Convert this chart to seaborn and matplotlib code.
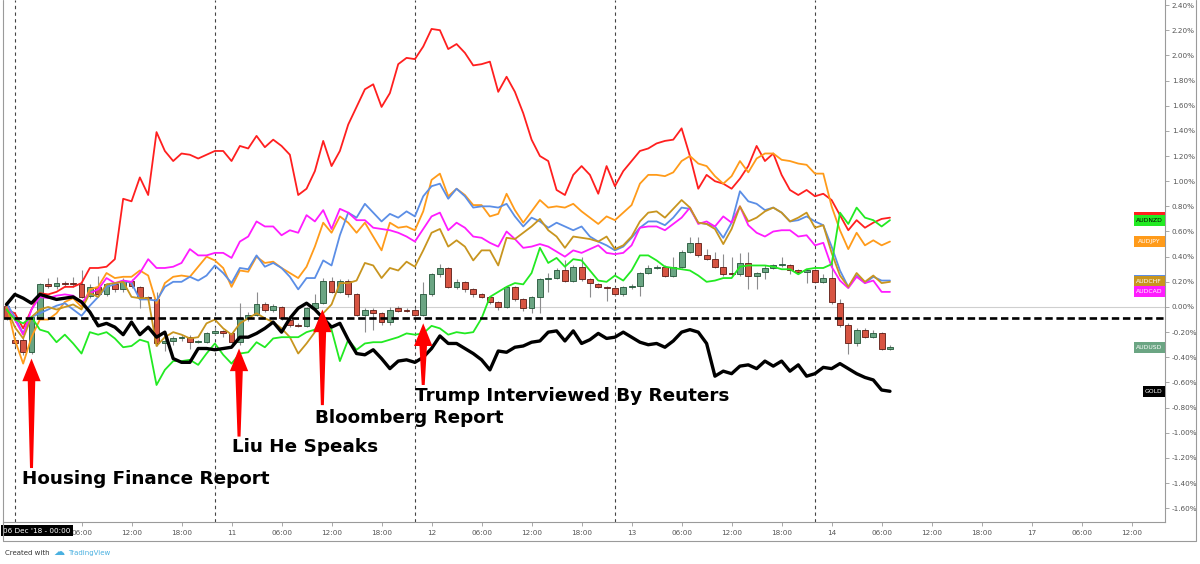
import numpy as np
import pandas as pd
import matplotlib.pyplot as plt
from matplotlib.patches import Polygon, Rectangle
from matplotlib.lines import Line2D
import seaborn as sns

# hourly bars; hour 0 = "06 Dec '18 - 00:00" on the chart's own (weekend-free) time scale
hours = list(range(-3, 104))

# % change series
audgbp = [-0.02, -0.05, -0.17, -0.02, 0.11, 0.10, 0.12, 0.16, 0.16, 0.19,
          0.31, 0.31, 0.32, 0.38, 0.86, 0.84, 1.03, 0.89, 1.39, 1.24,
          1.16, 1.22, 1.21, 1.18, 1.21, 1.24, 1.24, 1.16, 1.28, 1.26,
          1.36, 1.27, 1.33, 1.28, 1.21, 0.89, 0.94, 1.08, 1.32, 1.12,
          1.24, 1.45, 1.59, 1.73, 1.77, 1.59, 1.70, 1.93, 1.98, 1.97,
          2.07, 2.21, 2.20, 2.05, 2.09, 2.02, 1.92, 1.93, 1.95, 1.71,
          1.83, 1.71, 1.54, 1.33, 1.20, 1.16, 0.93, 0.89, 1.05, 1.12,
          1.05, 0.90, 1.12, 0.96, 1.08, 1.16, 1.24, 1.26, 1.30, 1.32,
          1.33, 1.42, 1.20, 0.94, 1.05, 1.00, 0.98, 0.94, 1.02, 1.12,
          1.28, 1.16, 1.22, 1.05, 0.93, 0.89, 0.93, 0.88, 0.90, 0.85,
          0.73, 0.61, 0.69, 0.63, 0.67, 0.70, 0.71]
audjpy = [0.03, -0.26, -0.45, -0.24, -0.10, -0.10, -0.05, 0.04, 0.07, 0.00,
          0.14, 0.16, 0.27, 0.23, 0.24, 0.24, 0.29, 0.25, 0.03, 0.19,
          0.24, 0.25, 0.24, 0.32, 0.40, 0.37, 0.31, 0.16, 0.29, 0.28,
          0.40, 0.35, 0.36, 0.31, 0.27, 0.23, 0.32, 0.48, 0.67, 0.59,
          0.72, 0.67, 0.59, 0.67, 0.56, 0.45, 0.67, 0.63, 0.64, 0.61,
          0.76, 1.01, 1.06, 0.88, 0.94, 0.89, 0.81, 0.81, 0.72, 0.74,
          0.90, 0.77, 0.67, 0.76, 0.85, 0.79, 0.80, 0.79, 0.82, 0.76,
          0.71, 0.66, 0.72, 0.69, 0.75, 0.81, 0.98, 1.05, 1.05, 1.04,
          1.07, 1.16, 1.20, 1.14, 1.12, 1.04, 0.98, 1.04, 1.16, 1.07,
          1.18, 1.22, 1.22, 1.17, 1.16, 1.14, 1.13, 1.06, 1.06, 0.80,
          0.61, 0.46, 0.59, 0.49, 0.53, 0.49, 0.52]
audeur = [0.03, -0.08, -0.21, -0.08, -0.05, -0.02, 0.01, 0.03, -0.02, -0.07,
          0.01, 0.08, 0.16, 0.18, 0.21, 0.19, 0.06, 0.06, 0.05, 0.16,
          0.20, 0.20, 0.24, 0.21, 0.25, 0.33, 0.27, 0.19, 0.31, 0.30,
          0.41, 0.32, 0.35, 0.31, 0.24, 0.14, 0.23, 0.23, 0.37, 0.33,
          0.57, 0.75, 0.71, 0.82, 0.75, 0.68, 0.74, 0.71, 0.76, 0.72,
          0.88, 0.96, 0.98, 0.86, 0.94, 0.88, 0.79, 0.80, 0.80, 0.79,
          0.82, 0.72, 0.64, 0.71, 0.68, 0.63, 0.67, 0.64, 0.61, 0.64,
          0.56, 0.52, 0.49, 0.45, 0.48, 0.55, 0.63, 0.68, 0.68, 0.65,
          0.71, 0.79, 0.78, 0.67, 0.66, 0.64, 0.55, 0.67, 0.92, 0.84,
          0.82, 0.77, 0.79, 0.75, 0.68, 0.69, 0.72, 0.68, 0.65, 0.48,
          0.29, 0.16, 0.25, 0.19, 0.24, 0.21, 0.21]
audcad = [0.00, -0.10, -0.22, -0.02, 0.08, 0.07, 0.09, 0.10, 0.09, 0.03,
          0.11, 0.14, 0.23, 0.19, 0.21, 0.20, 0.27, 0.38, 0.31, 0.31,
          0.32, 0.35, 0.46, 0.41, 0.41, 0.43, 0.43, 0.39, 0.52, 0.56,
          0.68, 0.64, 0.64, 0.57, 0.61, 0.59, 0.73, 0.68, 0.77, 0.62,
          0.78, 0.75, 0.69, 0.69, 0.63, 0.62, 0.61, 0.59, 0.56, 0.52,
          0.62, 0.72, 0.75, 0.61, 0.67, 0.63, 0.56, 0.55, 0.51, 0.48,
          0.60, 0.54, 0.47, 0.48, 0.50, 0.48, 0.44, 0.40, 0.45, 0.43,
          0.46, 0.49, 0.43, 0.42, 0.43, 0.49, 0.63, 0.64, 0.64, 0.61,
          0.66, 0.71, 0.79, 0.66, 0.68, 0.64, 0.72, 0.67, 0.80, 0.65,
          0.59, 0.56, 0.60, 0.61, 0.61, 0.56, 0.57, 0.49, 0.51, 0.32,
          0.21, 0.15, 0.24, 0.19, 0.21, 0.12, 0.12]
audchf = [0.00, -0.16, -0.25, -0.08, -0.02, 0.00, -0.02, 0.00, 0.02, -0.02,
          0.11, 0.08, 0.18, 0.19, 0.20, 0.08, 0.07, 0.07, -0.31, -0.24,
          -0.20, -0.22, -0.25, -0.24, -0.13, -0.10, -0.17, -0.22, -0.13, -0.09,
          -0.05, -0.09, -0.12, -0.17, -0.24, -0.37, -0.29, -0.20, -0.05, 0.02,
          0.19, 0.19, 0.21, 0.35, 0.33, 0.23, 0.31, 0.29, 0.36, 0.32,
          0.45, 0.59, 0.62, 0.48, 0.53, 0.48, 0.37, 0.45, 0.45, 0.33,
          0.55, 0.54, 0.59, 0.64, 0.70, 0.61, 0.56, 0.47, 0.56, 0.55,
          0.54, 0.52, 0.56, 0.46, 0.49, 0.56, 0.68, 0.75, 0.76, 0.71,
          0.78, 0.85, 0.79, 0.67, 0.66, 0.62, 0.50, 0.62, 0.80, 0.68,
          0.71, 0.76, 0.79, 0.75, 0.68, 0.71, 0.75, 0.63, 0.65, 0.43,
          0.25, 0.16, 0.27, 0.20, 0.25, 0.19, 0.20]
audnzd = [-0.02, -0.10, -0.13, -0.08, -0.18, -0.20, -0.28, -0.22, -0.29, -0.37,
          -0.20, -0.22, -0.20, -0.25, -0.32, -0.31, -0.26, -0.28, -0.62, -0.50,
          -0.43, -0.43, -0.42, -0.46, -0.37, -0.29, -0.38, -0.45, -0.37, -0.36,
          -0.28, -0.32, -0.25, -0.24, -0.24, -0.24, -0.20, -0.18, -0.10, -0.18,
          -0.43, -0.26, -0.34, -0.29, -0.28, -0.28, -0.26, -0.24, -0.21, -0.22,
          -0.21, -0.15, -0.17, -0.22, -0.20, -0.21, -0.20, -0.09, 0.08, 0.12,
          0.16, 0.19, 0.18, 0.27, 0.47, 0.35, 0.39, 0.32, 0.38, 0.37,
          0.29, 0.21, 0.20, 0.25, 0.21, 0.29, 0.41, 0.41, 0.37, 0.32,
          0.31, 0.30, 0.29, 0.25, 0.20, 0.21, 0.23, 0.23, 0.32, 0.33,
          0.33, 0.33, 0.32, 0.30, 0.30, 0.26, 0.30, 0.31, 0.31, 0.34,
          0.75, 0.66, 0.79, 0.71, 0.69, 0.64, 0.69]
gold = [0.02, 0.10, 0.07, 0.03, 0.10, 0.08, 0.06, 0.07, 0.08, 0.04,
        -0.04, -0.15, -0.13, -0.16, -0.22, -0.12, -0.22, -0.16, -0.24, -0.20,
        -0.41, -0.44, -0.44, -0.33, -0.33, -0.34, -0.33, -0.32, -0.24, -0.24,
        -0.21, -0.17, -0.12, -0.20, -0.09, -0.01, 0.03, -0.02, -0.09, -0.16,
        -0.13, -0.26, -0.37, -0.38, -0.34, -0.41, -0.49, -0.43, -0.42, -0.44,
        -0.40, -0.33, -0.23, -0.29, -0.29, -0.33, -0.37, -0.42, -0.50, -0.35,
        -0.36, -0.32, -0.31, -0.28, -0.27, -0.20, -0.19, -0.27, -0.19, -0.29,
        -0.26, -0.21, -0.25, -0.24, -0.20, -0.24, -0.28, -0.30, -0.29, -0.32,
        -0.27, -0.20, -0.18, -0.20, -0.29, -0.55, -0.51, -0.53, -0.47, -0.46,
        -0.49, -0.43, -0.47, -0.43, -0.51, -0.46, -0.55, -0.53, -0.48, -0.49,
        -0.45, -0.49, -0.53, -0.56, -0.58, -0.66, -0.67]

# AUDUSD candles (% change)
usd_open = [0.01, -0.26, -0.26, -0.36, -0.08, 0.18, 0.17, 0.19, 0.19, 0.18,
            0.09, 0.16, 0.10, 0.18, 0.14, 0.21, 0.16, 0.08, 0.06, -0.29,
            -0.27, -0.25, -0.24, -0.28, -0.28, -0.21, -0.19, -0.21, -0.28, -0.09,
            -0.06, 0.02, -0.02, 0.00, -0.10, -0.14, -0.15, -0.01, 0.03, 0.21,
            0.12, 0.21, 0.10, -0.06, -0.02, -0.05, -0.12, -0.01, -0.02, -0.02,
            -0.06, 0.10, 0.26, 0.31, 0.16, 0.20, 0.14, 0.10, 0.08, 0.04,
            0.00, 0.16, 0.06, -0.01, 0.08, 0.22, 0.23, 0.29, 0.21, 0.32,
            0.22, 0.18, 0.16, 0.15, 0.10, 0.16, 0.17, 0.27, 0.31, 0.32,
            0.25, 0.32, 0.44, 0.51, 0.41, 0.38, 0.32, 0.27, 0.26, 0.35,
            0.25, 0.28, 0.31, 0.33, 0.33, 0.29, 0.28, 0.29, 0.20, 0.23,
            0.03, -0.14, -0.29, -0.18, -0.24, -0.21, -0.33]
usd_close = [-0.09, -0.29, -0.36, -0.08, 0.18, 0.17, 0.19, 0.18, 0.18, 0.08,
             0.16, 0.10, 0.18, 0.14, 0.21, 0.17, 0.08, 0.07, -0.29, -0.27,
             -0.25, -0.24, -0.28, -0.27, -0.21, -0.19, -0.21, -0.28, -0.09, -0.06,
             0.02, -0.02, 0.01, -0.09, -0.14, -0.15, -0.01, 0.03, 0.21, 0.12,
             0.21, 0.10, -0.06, -0.02, -0.05, -0.12, -0.02, -0.03, -0.03, -0.06,
             0.10, 0.26, 0.31, 0.16, 0.20, 0.14, 0.10, 0.08, 0.04, 0.00,
             0.16, 0.06, -0.01, 0.08, 0.22, 0.23, 0.29, 0.21, 0.32, 0.22,
             0.19, 0.16, 0.15, 0.10, 0.16, 0.17, 0.27, 0.31, 0.32, 0.25,
             0.32, 0.44, 0.51, 0.41, 0.38, 0.32, 0.26, 0.26, 0.35, 0.25,
             0.27, 0.31, 0.33, 0.34, 0.29, 0.28, 0.29, 0.20, 0.23, 0.04,
             -0.14, -0.29, -0.18, -0.24, -0.21, -0.33, -0.32]
usd_high = [0.03, -0.24, -0.25, -0.07, 0.19, 0.23, 0.24, 0.21, 0.24, 0.29,
            0.18, 0.25, 0.19, 0.20, 0.23, 0.22, 0.17, 0.09, 0.12, -0.22,
            -0.23, -0.22, -0.22, -0.26, -0.20, -0.16, -0.18, -0.20, 0.03, -0.04,
            0.12, 0.04, 0.02, 0.01, -0.09, -0.13, 0.00, 0.10, 0.23, 0.24,
            0.22, 0.22, 0.11, -0.01, -0.01, -0.04, 0.00, 0.01, -0.01, -0.01,
            0.20, 0.27, 0.34, 0.32, 0.22, 0.21, 0.15, 0.11, 0.09, 0.05,
            0.17, 0.17, 0.07, 0.09, 0.23, 0.27, 0.31, 0.37, 0.33, 0.40,
            0.23, 0.19, 0.17, 0.16, 0.17, 0.18, 0.28, 0.33, 0.33, 0.33,
            0.40, 0.45, 0.56, 0.56, 0.46, 0.44, 0.42, 0.40, 0.43, 0.44,
            0.28, 0.33, 0.34, 0.40, 0.34, 0.30, 0.30, 0.30, 0.26, 0.36,
            0.06, -0.13, -0.17, -0.17, -0.18, -0.20, -0.30]
usd_low = [-0.10, -0.31, -0.38, -0.37, -0.09, 0.15, 0.14, 0.16, 0.16, 0.07,
           0.07, 0.09, 0.09, 0.12, 0.12, 0.15, -0.01, 0.05, -0.31, -0.35,
           -0.30, -0.27, -0.33, -0.29, -0.29, -0.22, -0.24, -0.30, -0.30, -0.11,
           -0.07, -0.04, -0.04, -0.10, -0.16, -0.16, -0.16, -0.02, 0.02, 0.11,
           0.11, 0.08, -0.07, -0.20, -0.18, -0.14, -0.14, -0.04, -0.04, -0.07,
           -0.07, 0.09, 0.24, 0.15, 0.14, 0.12, 0.08, 0.07, 0.02, -0.02,
           -0.01, 0.05, -0.03, -0.05, -0.05, 0.12, 0.22, 0.20, 0.20, 0.21,
           0.08, 0.15, 0.05, 0.09, 0.09, 0.14, 0.09, 0.26, 0.30, 0.24,
           0.24, 0.31, 0.43, 0.40, 0.37, 0.31, 0.25, 0.25, 0.25, 0.14,
           0.14, 0.22, 0.30, 0.32, 0.26, 0.27, 0.19, 0.19, 0.19, 0.02,
           -0.16, -0.37, -0.31, -0.25, -0.25, -0.34, -0.34]

baseline = -0.09  # thick dashed reference line
session_breaks = [-2, 22, 46, 70, 94]
tick_hours = list(range(6, 133, 6))
tick_labels = ["06:00", "12:00", "18:00", "11", "06:00", "12:00", "18:00", "12",
               "06:00", "12:00", "18:00", "13", "06:00", "12:00", "18:00", "14",
               "06:00", "12:00", "18:00", "17", "06:00", "12:00"]

colors = {"AUDGBP": "#ff1f1f", "AUDJPY": "#ff9b1a", "AUDEUR": "#5b8ee6",
          "AUDCAD": "#ff1cff", "AUDCHF": "#c8951f", "AUDNZD": "#22ea22"}
series = {"AUDGBP": audgbp, "AUDJPY": audjpy, "AUDEUR": audeur,
          "AUDCAD": audcad, "AUDCHF": audchf, "AUDNZD": audnzd}

# annotation: text, arrow x (hour), arrow tip, arrow tail, text left x, text y
events = [("Housing Finance Report", 0.0, -0.41, -1.28, -1.1, -1.37),
          ("Liu He Speaks", 24.9, -0.33, -1.03, 24.1, -1.11),
          ("Bloomberg Report", 34.9, -0.02, -0.78, 34.0, -0.88),
          ("Trump Interviewed By Reuters", 47.0, -0.13, -0.62, 46.0, -0.71)]

sns.set_theme(style="white")
plt.rcParams['font.family'] = ['DejaVu Sans']

fig = plt.figure(figsize=(12, 5.64), dpi=100)
ax = fig.add_axes([3 / 1200, 1 - 522 / 564, 1162 / 1200, 522 / 564])
ax.set_xlim(-3.42, 136.0)
ax.set_ylim(-1.709, 2.44)

# reference lines
ax.axhline(0, color="#cfcfcf", lw=0.8, zorder=1)
for h in session_breaks:
    ax.axvline(h, color="#444444", lw=0.8, ls=(0, (3, 3)), zorder=1)

# candles
o = np.array(usd_open)
c = np.array(usd_close)
up = c >= o
ax.vlines(hours, usd_low, usd_high, color="#8c8c8e", lw=0.8, zorder=2)
ax.bar(hours, c - o, bottom=o, width=0.7,
       color=np.where(up, "#6ba583", "#d75442"),
       edgecolor=np.where(up, "#225437", "#5b1a13"), linewidth=0.6, zorder=2)

# compare lines
df = pd.concat([pd.DataFrame({"hour": hours, "pct": v, "pair": k}) for k, v in series.items()])
sns.lineplot(data=df, x="hour", y="pct", hue="pair", palette=colors, linewidth=1.3,
             legend=False, ax=ax, zorder=3)
sns.lineplot(x=hours, y=gold, color="black", linewidth=2.4, ax=ax, zorder=4)

ax.axhline(baseline, color="black", lw=1.9, ls=(0, (2.8, 1.4)), zorder=5)

# events
for text, hx, tip, tail, tx, ty in events:
    hw, hl, nw, tw = 1.1, 0.18, 0.45, 0.18
    neck = tip - hl
    pts = [(hx, tip), (hx + hw, neck), (hx + nw, neck), (hx + tw, tail),
           (hx - tw, tail), (hx - nw, neck), (hx - hw, neck)]
    ax.add_patch(Polygon(pts, closed=True, facecolor="#ff0000", edgecolor="none", zorder=6))
    ax.text(tx, ty, text, fontsize=13.2, fontweight="bold", color="black",
            ha="left", va="center", zorder=7)

# price tags on the right edge (red and blue tags sit under their neighbours)
x1 = ax.get_xlim()[1]
tags = [("", audgbp[-1], colors["AUDGBP"], "black", 3.7),
        ("AUDNZD", audnzd[-1], colors["AUDNZD"], "black", 3.7),
        ("AUDJPY", audjpy[-1], colors["AUDJPY"], "white", 3.7),
        ("", audeur[-1], colors["AUDEUR"], "white", 3.7),
        ("AUDCHF", audchf[-1], colors["AUDCHF"], "white", 3.7),
        ("AUDCAD", audcad[-1], colors["AUDCAD"], "white", 3.7),
        ("AUDUSD", usd_close[-1], "#6ba583", "white", 3.7),
        ("GOLD", gold[-1], "black", "white", 2.6)]
for i, (name, val, face, fg, w) in enumerate(tags):
    ax.add_patch(Rectangle((x1 - w - 0.05, val - 0.044), w, 0.088, facecolor=face,
                           edgecolor="none", zorder=8 + 2 * i))
    if name:
        ax.text(x1 - 0.05 - w / 2, val, name, fontsize=4.4, color=fg, ha="center",
                va="center", zorder=9 + 2 * i)

# axes styling
for s in ["left", "top"]:
    ax.spines[s].set_visible(False)
for s in ["right", "bottom"]:
    ax.spines[s].set_color("#9a9a9a")
    ax.spines[s].set_linewidth(0.8)
ax.yaxis.tick_right()
yt = [k / 100 for k in range(-160, 241, 20)]
ax.set_yticks(yt)
ax.set_yticklabels([f"{t:.2f}%" for t in yt])
ax.set_xticks(tick_hours)
ax.set_xticklabels(tick_labels)
ax.tick_params(axis="y", right=True, left=False, length=3, width=0.6, color="#9a9a9a",
               labelsize=5.2, labelcolor="#555555", pad=2)
ax.tick_params(axis="x", bottom=True, length=3, width=0.6, color="#9a9a9a",
               labelsize=5.2, labelcolor="#555555", pad=3)
ax.set_xlabel("")
ax.set_ylabel("")

ax.text(0.66, -0.017, "06 Dec '18 - 00:00", transform=ax.get_xaxis_transform(),
        fontsize=5.2, color="white", ha="center", va="center", zorder=20,
        bbox=dict(boxstyle="square,pad=0.35", fc="black", ec="none"), clip_on=False)

# outer frame
fx0, fx1, fy0 = 3 / 1200, 1196 / 1200, 1 - 541 / 564
fig.add_artist(Line2D([fx0, fx0, fx1, fx1], [1, fy0, fy0, 1], color="#9a9a9a", lw=0.8))

fig.text(5 / 1200, 1 - 553 / 564, "Created with", fontsize=5, color="#333333", va="center")
fig.text(53 / 1200, 1 - 552 / 564, "\u2601", fontsize=8, color="#49b0e0", va="center")
fig.text(68 / 1200, 1 - 553 / 564, "TradingView", fontsize=5, color="#49b0e0", va="center")

fig.savefig("out.png", dpi=100)
